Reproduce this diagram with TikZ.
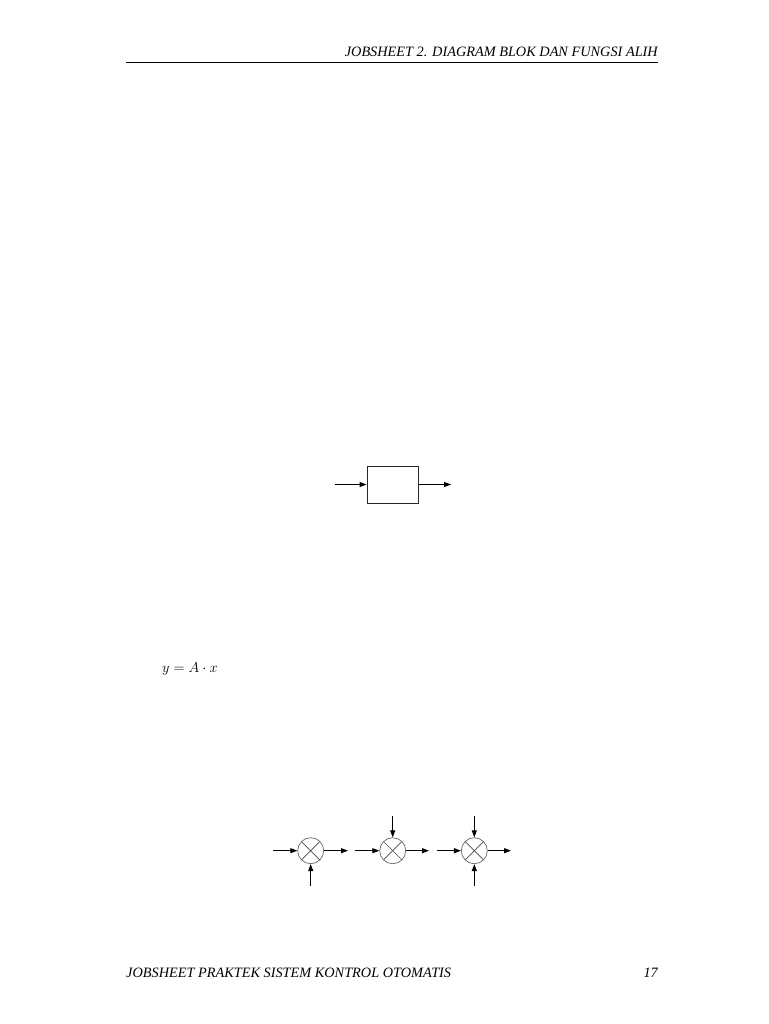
\documentclass[tikz,border=0pt]{standalone}
\usepackage{fontspec}
\setmainfont{Liberation Serif}
\usetikzlibrary{arrows.meta}
\begin{document}
\begin{tikzpicture}[x=1pt,y=-1pt,
  sig/.style={line width=1pt,-{Triangle[length=7pt,width=5pt]}},
  blockbox/.style={draw=black!85,line width=1pt,minimum width=51pt,minimum height=37pt,inner sep=0pt},
  sumnode/.style={draw=black!60,line width=0.7pt,circle,minimum size=26pt,inner sep=0pt,path picture={
    \draw[black!70,line width=0.7pt] (path picture bounding box.south west)++(3.8pt,3.8pt) -- ([shift={(-3.8pt,-3.8pt)}]path picture bounding box.north east);
    \draw[black!70,line width=0.7pt] ([shift={(3.8pt,-3.8pt)}]path picture bounding box.north west) -- ([shift={(-3.8pt,3.8pt)}]path picture bounding box.south east);}},
  hdr/.style={font=\fontsize{14.3}{16}\selectfont\itshape,inner sep=0pt}]
\useasboundingbox[fill=white] (0,0) rectangle (768,1024);
% header
\node[hdr,anchor=base east] (head) at (658,57) {JOBSHEET 2. DIAGRAM BLOK DAN FUNGSI ALIH};
\coordinate (rl) at (126,62);
\coordinate (rr) at (658,62);
\draw[line width=0.9pt] (rl) -- (rr);
% block
\node[blockbox] (blk) at (392.5,484.5) {};
\coordinate (bin) at (335,484.5);
\coordinate (bout) at (451,484.5);
\draw[sig] (bin) -- (blk.west);
\draw[sig] (blk.east) -- (bout);
% equation
\node[anchor=base west,inner sep=0pt,font=\fontsize{14}{16}\selectfont] (eq) at (162,672) {$y = A\cdot x$};
% summing junctions
\node[sumnode] (s1) at (310.7,850.7) {};
\node[sumnode] (s2) at (392.7,850.7) {};
\node[sumnode] (s3) at (474.3,850.7) {};
\coordinate (i1) at (273,850.7);
\coordinate (o1) at (348,850.7);
\coordinate (i2) at (355,850.7);
\coordinate (o2) at (429,850.7);
\coordinate (i3) at (437,850.7);
\coordinate (o3) at (511,850.7);
\coordinate (b1) at (310.7,886);
\coordinate (t2) at (392.7,816);
\coordinate (t3) at (474.3,816);
\coordinate (b3) at (474.3,886);
\draw[sig] (i1) -- (s1.west);
\draw[sig] (s1.east) -- (o1);
\draw[sig] (b1) -- (s1.south);
\draw[sig] (i2) -- (s2.west);
\draw[sig] (s2.east) -- (o2);
\draw[sig] (t2) -- (s2.north);
\draw[sig] (i3) -- (s3.west);
\draw[sig] (s3.east) -- (o3);
\draw[sig] (t3) -- (s3.north);
\draw[sig] (b3) -- (s3.south);
% footer
\node[hdr,anchor=base west] (foot) at (126,977) {JOBSHEET PRAKTEK SISTEM KONTROL OTOMATIS};
\node[hdr,anchor=base east] (pg) at (658,977) {17};
\end{tikzpicture}
\end{document}
